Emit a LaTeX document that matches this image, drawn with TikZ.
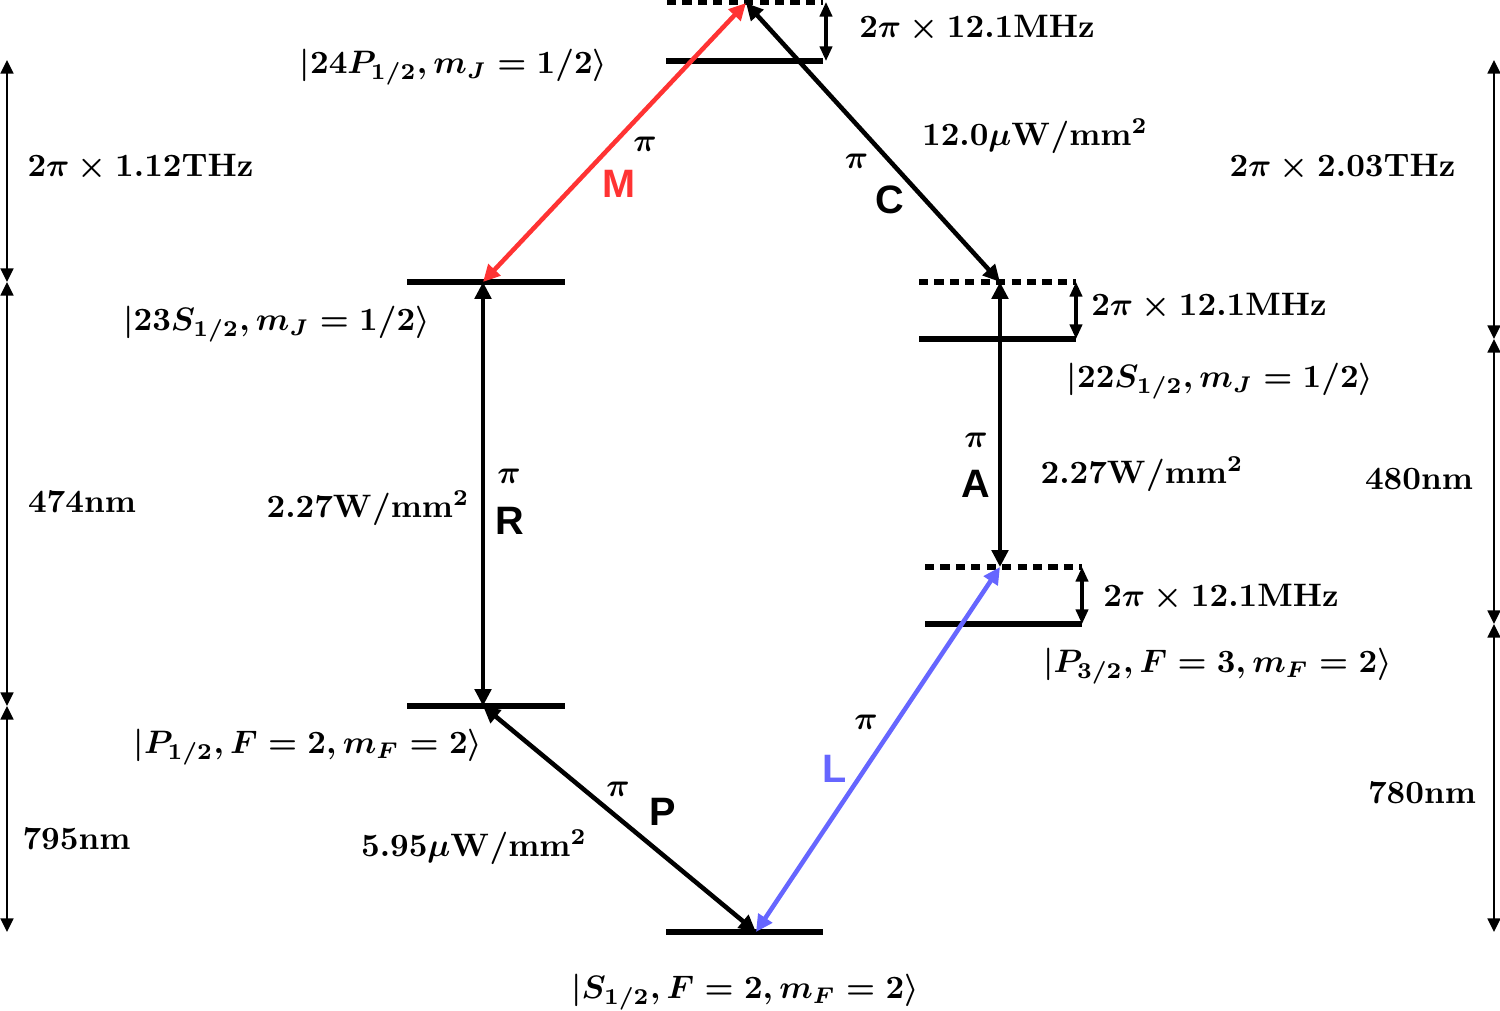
\documentclass[tikz,border=0pt]{standalone}
\usepackage[no-math]{fontspec}
\newfontfamily\letterfont{Liberation Sans}[Scale=1.0]
\usetikzlibrary{arrows.meta}
\definecolor{redbeam}{RGB}{255,51,51}
\definecolor{bluebeam}{RGB}{102,102,255}
\newcommand{\bm}[1]{{\boldmath$#1$}}
\tikzset{
  x=0.3078pt,y=-0.3078pt,
  level/.style={line width=1.85pt},
  virt/.style={line width=1.55pt,dash pattern=on 2.8pt off 1.95pt},
  beam/.style={line width=1.4pt,{Triangle[length=5.2pt,width=5pt]}-{Triangle[length=5.2pt,width=5pt]}},
  gap/.style={line width=0.95pt,{Triangle[length=4.5pt,width=3.8pt]}-{Triangle[length=4.5pt,width=3.8pt]}},
  span/.style={line width=0.8pt,{Triangle[length=4.2pt,width=3.9pt]}-{Triangle[length=4.2pt,width=3.9pt]}},
  lab/.style={inner sep=0pt,font=\normalsize},
  tag/.style={inner sep=0pt,font=\letterfont\bfseries\fontsize{12.2}{13}\selectfont},
}
\begin{document}
\begin{tikzpicture}
\useasboundingbox (0,0) rectangle (1500,1011);
% level coordinates
\coordinate (SL) at (666,932); \coordinate (SR) at (823,932); \coordinate (S) at (756,932);
\coordinate (PL) at (407,706); \coordinate (PR) at (565,706); \coordinate (Pa) at (483,706);
\coordinate (RL) at (407,282); \coordinate (RR) at (565,282); \coordinate (Ra) at (483,282);
\coordinate (TL) at (666,61);  \coordinate (TR) at (823,61);
\coordinate (TvL) at (667,2);  \coordinate (TvR) at (823,2);  \coordinate (Ta) at (746,3);
\coordinate (QL) at (919,339); \coordinate (QR) at (1076,339);
\coordinate (QvL) at (919,282);\coordinate (QvR) at (1076,282);\coordinate (Qa) at (1000,282);
\coordinate (DL) at (925,624); \coordinate (DR) at (1082,624);
\coordinate (DvL) at (925,567);\coordinate (DvR) at (1082,567);\coordinate (Da) at (1000,567);
\coordinate (g1a) at (826,2);   \coordinate (g1b) at (826,61);
\coordinate (g2a) at (1076,282);\coordinate (g2b) at (1076,339);
\coordinate (g3a) at (1082,567);\coordinate (g3b) at (1082,624);
\coordinate (l1) at (7,60); \coordinate (l2) at (7,282); \coordinate (l3) at (7,706); \coordinate (l4) at (7,932);
\coordinate (r1) at (1494,60); \coordinate (r2) at (1494,339); \coordinate (r3) at (1494,624); \coordinate (r4) at (1494,932);
% levels
\draw[level] (SL) -- (SR);
\draw[level] (PL) -- (PR);
\draw[level] (RL) -- (RR);
\draw[level] (TL) -- (TR);
\draw[level] (QL) -- (QR);
\draw[level] (DL) -- (DR);
\draw[virt] (TvL) -- (TvR);
\draw[virt] (QvL) -- (QvR);
\draw[virt] (DvL) -- (DvR);
% beams
\draw[beam] (Ra) -- (Pa);
\draw[beam] (Qa) -- (Da);
\draw[beam] (Ta) -- (Qa);
\draw[beam] (Pa) -- (S);
\draw[beam,draw=redbeam,color=redbeam] (Ta) -- (Ra);
\draw[beam,draw=bluebeam,color=bluebeam] (S) -- (Da);
% detuning gaps
\draw[gap] (g1a) -- (g1b);
\draw[gap] (g2a) -- (g2b);
\draw[gap] (g3a) -- (g3b);
% side spans
\draw[span] (l1) -- (l2);
\draw[span] (l2) -- (l3);
\draw[span] (l3) -- (l4);
\draw[span] (r1) -- (r2);
\draw[span] (r2) -- (r3);
\draw[span] (r3) -- (r4);
% labels
\node[lab] (t1) at (977,29) {\bm{2\pi\times 12.1\mathbf{MHz}}};
\node[lab] (t2) at (1209,307) {\bm{2\pi\times 12.1\mathbf{MHz}}};
\node[lab] (t3) at (1221,598) {\bm{2\pi\times 12.1\mathbf{MHz}}};
\node[lab] (t4) at (140.5,168) {\bm{2\pi\times 1.12\mathbf{THz}}};
\node[lab] (t5) at (1342.5,168) {\bm{2\pi\times 2.03\mathbf{THz}}};
\node[lab] (s1) at (453.5,67) {\bm{|24P_{1/2},m_J=1/2\rangle}};
\node[lab] (s2) at (276.5,324) {\bm{|23S_{1/2},m_J=1/2\rangle}};
\node[lab] (s3) at (1220,381) {\bm{|22S_{1/2},m_J=1/2\rangle}};
\node[lab] (s4) at (1217.5,666) {\bm{|P_{3/2},F=3,m_F=2\rangle}};
\node[lab] (s5) at (308,747) {\bm{|P_{1/2},F=2,m_F=2\rangle}};
\node[lab] (s6) at (745,992) {\bm{|S_{1/2},F=2,m_F=2\rangle}};
\node[lab] (p1) at (1035,136) {\bm{12.0\mu\mathbf{W/mm^2}}};
\node[lab] (p2) at (368,508) {\bm{2.27\mathbf{W/mm^2}}};
\node[lab] (p3) at (1142,474) {\bm{2.27\mathbf{W/mm^2}}};
\node[lab] (p4) at (474,847) {\bm{5.95\mu\mathbf{W/mm^2}}};
\node[lab] (w1) at (82,502) {\bm{474\mathbf{nm}}};
\node[lab] (w2) at (1419,479) {\bm{480\mathbf{nm}}};
\node[lab] (w3) at (1422,793) {\bm{780\mathbf{nm}}};
\node[lab] (w4) at (76.5,839) {\bm{795\mathbf{nm}}};
\node[lab] (pi1) at (645,144) {\bm{\pi}};
\node[lab] (pi2) at (856.5,161) {\bm{\pi}};
\node[lab] (pi3) at (509,476) {\bm{\pi}};
\node[lab] (pi4) at (976,440) {\bm{\pi}};
\node[lab] (pi5) at (866,722) {\bm{\pi}};
\node[lab] (pi6) at (618,789) {\bm{\pi}};
\node[tag,text=redbeam] (M) at (619,184) {M};
\node[tag] (C) at (890,200) {C};
\node[tag] (R) at (510,521) {R};
\node[tag] (A) at (976,484) {A};
\node[tag,text=bluebeam] (L) at (835,769) {L};
\node[tag] (Pl) at (663,812) {P};
\end{tikzpicture}
\end{document}
